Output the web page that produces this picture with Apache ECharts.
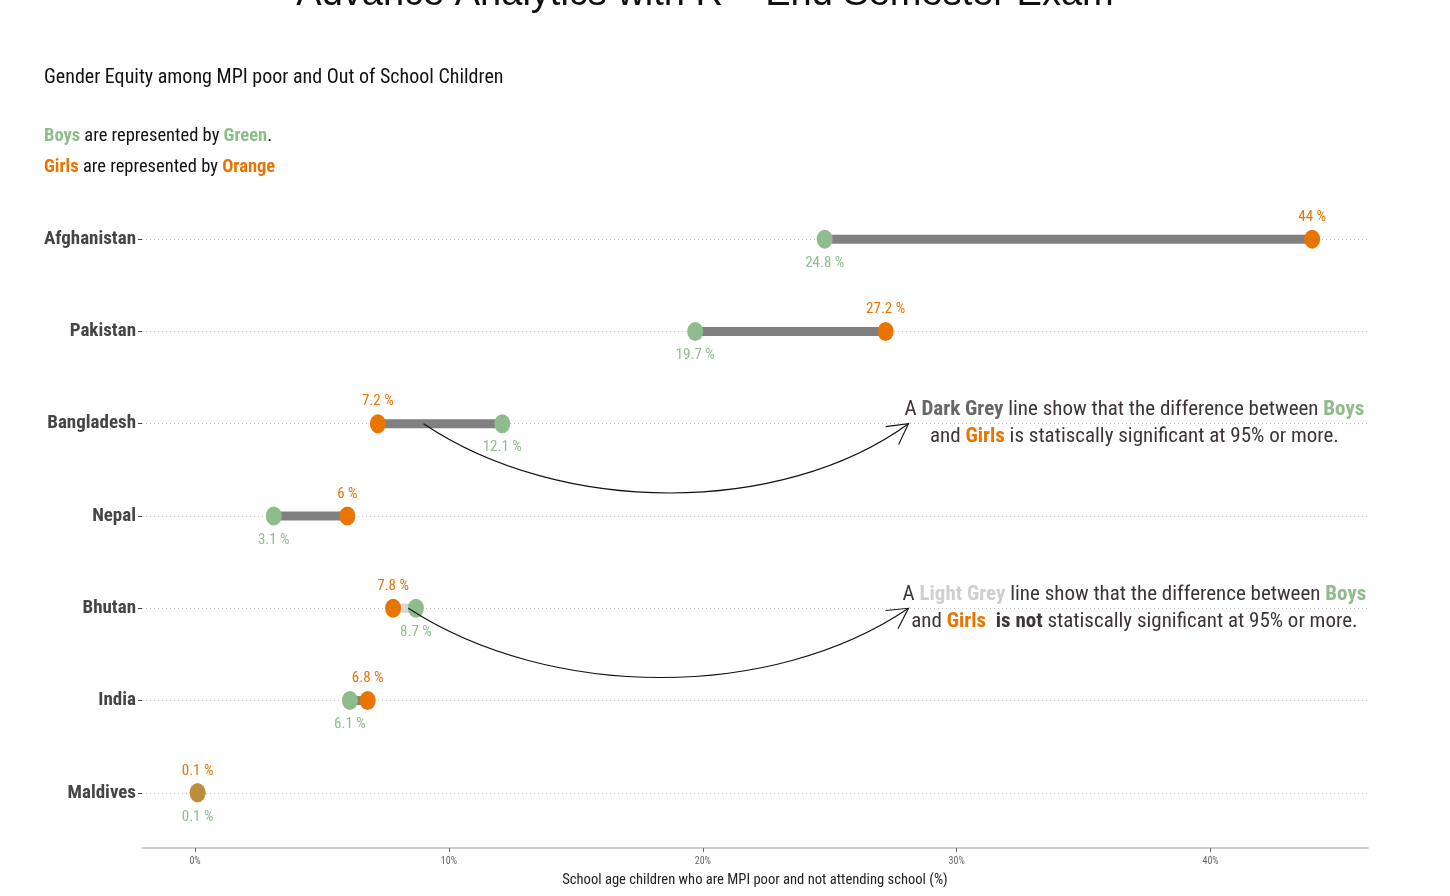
<!DOCTYPE html>
<html><head><meta charset="utf-8">
<script src="https://cdn.jsdelivr.net/npm/echarts@6/dist/echarts.min.js"></script>
<style>html,body{margin:0;padding:0;background:#fff}#c{width:1450px;height:896px}</style>
</head><body><div id="c"></div>
<script>
// ---- data ----
const countries = ['Afghanistan', 'Pakistan', 'Bangladesh', 'Nepal', 'Bhutan', 'India', 'Maldives'];
const boys  = [24.8, 19.7, 12.1, 3.1, 8.7, 6.1, 0.1];
const girls = [44, 27.2, 7.2, 6, 7.8, 6.8, 0.1];
const significant = [true, true, true, true, false, true, true];
const xTicks = [0, 10, 20, 30, 40];

// ---- styles ----
const NARROW = '"Roboto Condensed", "Liberation Sans", Arial, sans-serif';
const GREEN = '#8fbc8b';
const ORANGE = '#e87500';
const OVERLAP = '#bd8d3c';
const DARKGREY = '#808080';
const LIGHTGREY = '#d6d6d6';
const TXT = '#3e3438';

const chart = echarts.init(document.getElementById('c'), null, {renderer: 'canvas'});

const option = {
  backgroundColor: '#fff',
  animation: false,
  grid: {left: 142, right: 82, top: 193, bottom: 57},
  xAxis: {
    type: 'value', min: -2.09, max: 46.2, offset: 9,
    axisLine: {show: true, lineStyle: {color: '#bdbdbd', width: 1.5}},
    axisTick: {show: true, customValues: xTicks, length: 4, lineStyle: {color: '#666'}},
    axisLabel: {customValues: xTicks, formatter: '{value}%', fontSize: 10, color: '#666', fontFamily: NARROW, margin: 8},
    splitLine: {show: false},
    name: 'School age children who are MPI poor and not attending school (%)',
    nameLocation: 'middle', nameGap: 25,
    nameTextStyle: {fontSize: 14.6, color: '#222', fontFamily: NARROW}
  },
  yAxis: {
    type: 'category', data: countries, inverse: true,
    axisLine: {show: false, onZero: false},
    axisTick: {show: true, length: 4, alignWithLabel: true, lineStyle: {color: '#444'}},
    axisLabel: {fontSize: 19, fontWeight: 'bold', color: '#454545', fontFamily: NARROW, margin: 6},
    splitLine: {show: false}
  },
  series: [
    {
      type: 'scatter', data: [], z: 0, silent: true,
      markLine: {
        silent: true, symbol: 'none', label: {show: false}, z: 0,
        lineStyle: {type: [1, 3], color: '#c4c4c4', width: 1},
        data: countries.map(c => ({yAxis: c}))
      }
    },
    {
      type: 'custom',
      data: countries.map((c, i) => [i, boys[i], girls[i], significant[i] ? 1 : 0]),
      encode: {x: [1, 2], y: 0},
      renderItem: (params, api) => {
        const y = api.value(0);
        const p1 = api.coord([api.value(1), y]);
        const p2 = api.coord([api.value(2), y]);
        return {type: 'line', shape: {x1: p1[0], y1: p1[1], x2: p2[0], y2: p2[1]},
                style: {stroke: api.value(3) ? DARKGREY : LIGHTGREY, lineWidth: 9}};
      },
      z: 6
    },
    {
      type: 'scatter', name: 'Boys',
      data: countries.map((c, i) => [boys[i], c]),
      symbol: 'circle', symbolSize: [16, 19],
      itemStyle: {color: GREEN, opacity: 1},
      label: {show: true, position: 'bottom', distance: 7, formatter: p => p.value[0] + ' %',
              color: GREEN, fontSize: 15, fontFamily: NARROW},
      z: 7
    },
    {
      type: 'scatter', name: 'Girls',
      data: countries.map((c, i) => ({value: [girls[i], c],
        itemStyle: {color: girls[i] === boys[i] ? OVERLAP : ORANGE, opacity: 1}})),
      symbol: 'circle', symbolSize: [16, 19],
      itemStyle: {opacity: 1},
      label: {show: true, position: 'top', distance: 5, formatter: p => p.value[0] + ' %',
              color: ORANGE, fontSize: 15, fontFamily: NARROW},
      z: 8
    }
  ]
};
chart.setOption(option);

// ---- annotations ----
function px(x, y) { return chart.convertToPixel({gridIndex: 0}, [x, y]); }
function arrow(p0, c1, c2, p3) {
  const a = px(...p0), b = px(...c1), c = px(...c2), d = px(...p3);
  const dx = d[0] - c[0], dy = d[1] - c[1];
  const len = Math.hypot(dx, dy), ux = -dx / len, uy = -dy / len;
  const L = 23, ang = 0.5;
  const h1 = [d[0] + L * (ux * Math.cos(ang) - uy * Math.sin(ang)), d[1] + L * (ux * Math.sin(ang) + uy * Math.cos(ang))];
  const h2 = [d[0] + L * (ux * Math.cos(-ang) - uy * Math.sin(-ang)), d[1] + L * (ux * Math.sin(-ang) + uy * Math.cos(-ang))];
  return [
    {type: 'bezierCurve', shape: {x1: a[0], y1: a[1], cpx1: b[0], cpy1: b[1], cpx2: c[0], cpy2: c[1], x2: d[0], y2: d[1]},
     style: {stroke: '#111', lineWidth: 1.1, fill: null}, z: 10},
    {type: 'polyline', shape: {points: [h1, d, h2]}, style: {stroke: '#111', lineWidth: 1.1, fill: null}, z: 10}
  ];
}
const AF = 21;
const rich = {
  n:  {fontSize: AF, fontFamily: NARROW, fill: TXT},
  dg: {fontSize: AF, fontFamily: NARROW, fill: '#676767', fontWeight: 'bold'},
  lg: {fontSize: AF, fontFamily: NARROW, fill: '#cfcfcf', fontWeight: 'bold'},
  bo: {fontSize: AF, fontFamily: NARROW, fill: GREEN, fontWeight: 'bold'},
  gi: {fontSize: AF, fontFamily: NARROW, fill: ORANGE, fontWeight: 'bold'},
  nb: {fontSize: AF, fontFamily: NARROW, fill: TXT, fontWeight: 'bold'}
};
const ann1 = px(37.0, 2);
const ann2 = px(37.0, 4);
const HF = 18.5;
const hdrRich = {
  n: {fontSize: HF, fontFamily: NARROW, fill: '#111'},
  g: {fontSize: HF, fontFamily: NARROW, fill: GREEN, fontWeight: 'bold'},
  o: {fontSize: HF, fontFamily: NARROW, fill: ORANGE, fontWeight: 'bold'}
};
chart.setOption({
  graphic: [
    {type: 'text', style: {text: 'Advance Analytics with R \u2013 End Semester Exam', x: 705, y: 14,
      font: '38px "Liberation Sans", Arial, sans-serif', fill: '#111', align: 'center', verticalAlign: 'bottom'}},
    {type: 'text', style: {text: 'Gender Equity among MPI poor and Out of School Children', x: 44, y: 78,
      font: '20px ' + NARROW, fill: '#111', verticalAlign: 'middle'}},
    {type: 'text', style: {text: '{g|Boys}{n| are represented by }{g|Green}{n|.}', x: 44, y: 136, rich: hdrRich, verticalAlign: 'middle'}},
    {type: 'text', style: {text: '{o|Girls}{n| are represented by }{o|Orange}', x: 44, y: 167, rich: hdrRich, verticalAlign: 'middle'}},
    {type: 'text', style: {text: '{n|A }{dg|Dark Grey}{n| line show that the difference between }{bo|Boys}\n{n|and }{gi|Girls}{n| is statiscally significant at 95% or more.}',
      x: ann1[0], y: ann1[1], rich: rich, align: 'center', verticalAlign: 'middle', lineHeight: 27}},
    {type: 'text', style: {text: '{n|A }{lg|Light Grey}{n| line show that the difference between }{bo|Boys}\n{n|and }{gi|Girls}{n|  }{nb|is not}{n| statiscally significant at 95% or more.}',
      x: ann2[0], y: ann2[1], rich: rich, align: 'center', verticalAlign: 'middle', lineHeight: 27}},
    ...arrow([9.0, 2], [14.4, 3.15], [23.1, 3.15], [28.1, 2.09]),
    ...arrow([8.4, 4], [14.0, 5.17], [22.75, 5.17], [28.1, 4.1])
  ]
});
</script>
</body></html>
